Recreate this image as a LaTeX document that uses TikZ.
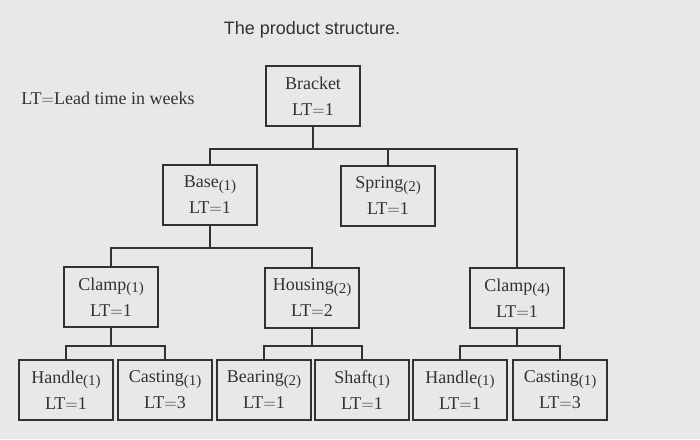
\documentclass[tikz,border=0pt]{standalone}
\usepackage{fontspec}
\setmainfont{Liberation Serif}
\newfontfamily\titlefont{Liberation Sans}
\definecolor{paper}{RGB}{232,232,230}
\definecolor{ink}{RGB}{50,50,50}
\newcommand{\qty}[1]{\raisebox{-0.3ex}{\fontsize{15}{15}\selectfont(#1)}}
\tikzset{
    part/.style={draw=ink, line width=1.2pt, fill=paper, align=center,
        minimum width=94pt, minimum height=60pt, inner sep=1pt,
        font=\fontsize{18}{26}\selectfont, text=ink},
    link/.style={draw=ink, line width=1.2pt}
}
\begin{document}
\begin{tikzpicture}[x=1pt, y=-1pt]
    \fill[paper] (0, 0) rectangle (700, 439);
    \useasboundingbox (0, 0) rectangle (700, 439);
    \node[font=\titlefont\fontsize{18}{20}\selectfont, text=ink] (title) at (312, 30) {The product structure.};
    \node[font=\fontsize{18}{20}\selectfont, text=ink] (legend) at (108, 98) {LT$=$Lead time in weeks};
    % level 0 and 1
    \node[part] (bracket) at (313, 96) {Bracket\\LT$=$1};
    \node[part] (base) at (210, 195) {Base\qty{1}\\LT$=$1};
    \node[part] (spring) at (388, 196) {Spring\qty{2}\\LT$=$1};
    % level 2
    \node[part] (clampa) at (111, 297) {Clamp\qty{1}\\LT$=$1};
    \node[part] (housing) at (312, 298) {Housing\qty{2}\\LT$=$2};
    \node[part] (clampb) at (517, 298) {Clamp\qty{4}\\LT$=$1};
    % level 3
    \node[part] (handlea) at (66, 390) {Handle\qty{1}\\LT$=$1};
    \node[part] (castinga) at (165, 390) {Casting\qty{1}\\LT$=$3};
    \node[part] (bearing) at (264, 390) {Bearing\qty{2}\\LT$=$1};
    \node[part] (shaft) at (362, 390) {Shaft\qty{1}\\LT$=$1};
    \node[part] (handleb) at (460, 390) {Handle\qty{1}\\LT$=$1};
    \node[part] (castingb) at (560, 390) {Casting\qty{1}\\LT$=$3};
    % connectors
    \draw[link] (bracket.south) -- ++(0, 21);
    \draw[link] (base.north) |- (clampb.north |- 0, 149) -- (clampb.north);
    \draw[link] (spring.north) -- (spring.north |- 0, 149);
    \draw[link] (base.south) -- ++(0, 21);
    \draw[link] (clampa.north) |- (housing.north |- 0, 248) -- (housing.north);
    \draw[link] (clampa.south) -- ++(0, 19);
    \draw[link] (handlea.north) |- (castinga.north |- 0, 346) -- (castinga.north);
    \draw[link] (housing.south) -- ++(0, 18);
    \draw[link] (bearing.north) |- (shaft.north |- 0, 346) -- (shaft.north);
    \draw[link] (clampb.south) -- ++(0, 18);
    \draw[link] (handleb.north) |- (castingb.north |- 0, 346) -- (castingb.north);
\end{tikzpicture}
\end{document}
